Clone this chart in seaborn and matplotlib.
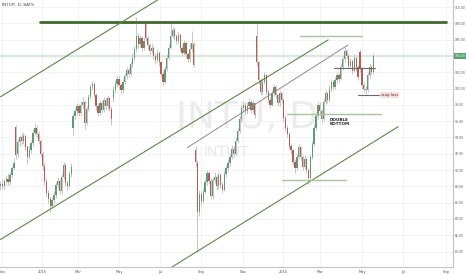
import numpy as np
import pandas as pd
import matplotlib
matplotlib.use("Agg")
import matplotlib.pyplot as plt
import matplotlib.transforms as mtransforms
import seaborn as sns

# ---------------- data (one candle = 2 trading days) ----------------
opens = [
    88.0, 88.3, 88.0, 88.6, 88.9, 88.5, 89.4, 90.2, 95.3, 92.0,
    93.4, 94.0, 93.5, 94.2, 92.8, 91.6, 92.5, 93.3, 94.6, 95.2,
    94.4, 93.6, 92.0, 90.5, 88.6, 87.2, 86.4, 85.6, 86.3, 86.9,
    88.2, 88.6, 87.4, 89.2, 90.6, 88.4, 88.0, 89.5, 95.2, 96.6,
    97.2, 97.8, 97.0, 98.0, 98.4, 95.8, 97.5, 99.0, 100.2, 100.6,
    99.2, 97.8, 97.0, 98.2, 97.4, 98.6, 97.8, 98.8, 97.5, 98.8,
    99.8, 100.6, 101.2, 100.4, 99.8, 100.8, 101.5, 102.3, 101.8, 103.0,
    103.8, 104.8, 106.4, 105.4, 106.2, 105.0, 107.9, 106.2, 105.3, 104.6,
    105.0, 104.0, 103.5, 104.4, 103.2, 101.8, 100.8, 102.4, 103.8, 105.0,
    106.5, 107.2, 106.4, 105.8, 106.6, 105.0, 104.4, 105.6, 104.2, 103.6,
    104.8, 105.4, 92.5, 90.9, 84.9, 87.0, 86.2, 87.3, 88.5, 89.6,
    88.7, 86.8, 88.8, 89.2, 88.0, 89.4, 88.2, 87.6, 89.5, 90.2,
    90.8, 91.6, 92.6, 92.0, 93.6, 94.8, 96.2, 97.6, 98.0, 97.2,
    97.8, 98.4, 97.4, 98.2, 106.4, 103.2, 101.0, 99.6, 100.8, 101.6,
    99.6, 98.6, 98.0, 99.4, 100.2, 99.2, 98.2, 99.4, 98.6, 96.4,
    95.2, 94.4, 93.0, 92.4, 91.0, 90.2, 91.6, 92.8, 91.6, 90.4,
    91.4, 90.0, 89.0, 91.6, 93.2, 95.2, 96.6, 98.0, 97.2, 96.2,
    98.4, 99.4, 98.6, 100.0, 100.8, 100.2, 101.0, 101.6, 101.2, 102.6,
    103.6, 104.6, 104.0, 102.8, 103.4, 102.2, 103.8, 102.6, 104.5, 102.4,
    100.4, 100.0, 99.8, 101.6, 102.6, 102.0,
]
highs = [
    88.7, 88.9, 88.9, 89.4, 89.6, 89.8, 90.5, 91.5, 95.5, 93.8,
    94.3, 94.6, 94.7, 94.4, 93.1, 93.0, 93.6, 95.0, 95.8, 95.5,
    94.8, 93.8, 92.3, 90.8, 89.0, 87.6, 86.8, 86.7, 87.4, 88.5,
    89.1, 88.9, 89.6, 91.0, 90.8, 88.8, 89.9, 90.9, 97.0, 97.6,
    98.2, 98.1, 98.5, 98.9, 98.6, 97.9, 99.3, 100.5, 100.9, 100.8,
    99.5, 98.2, 98.6, 98.5, 99.0, 98.9, 99.2, 99.0, 97.8, 100.3,
    101.0, 101.6, 101.5, 100.7, 101.2, 101.9, 102.7, 102.6, 103.4, 104.3,
    105.2, 108.8, 106.8, 106.6, 106.5, 106.3, 108.1, 106.5, 105.6, 105.4,
    105.2, 104.3, 104.8, 104.6, 103.4, 102.1, 102.8, 104.2, 105.4, 108.0,
    107.6, 107.5, 106.7, 107.0, 106.8, 105.3, 106.0, 105.8, 104.5, 105.6,
    107.0, 105.7, 93.0, 91.2, 87.5, 87.4, 87.8, 88.9, 90.0, 89.9,
    89.0, 89.2, 89.7, 89.4, 89.8, 89.6, 88.5, 89.9, 90.6, 91.3,
    92.0, 93.1, 92.9, 94.0, 95.2, 96.6, 98.0, 98.4, 98.3, 98.3,
    98.8, 98.6, 98.6, 98.4, 107.9, 103.4, 101.3, 101.2, 102.0, 101.8,
    99.9, 98.9, 99.8, 100.6, 100.4, 99.5, 99.8, 99.6, 98.8, 96.7,
    95.5, 94.7, 93.3, 92.6, 91.3, 92.0, 93.2, 93.0, 91.9, 91.8,
    91.6, 90.3, 92.0, 93.6, 95.6, 97.0, 98.4, 98.3, 97.5, 98.8,
    99.8, 99.6, 100.4, 101.2, 101.0, 101.4, 102.0, 101.9, 103.0, 104.0,
    105.1, 104.9, 104.2, 103.8, 103.6, 104.2, 104.0, 102.9, 104.8, 102.6,
    100.8, 100.4, 102.0, 103.0, 102.9, 104.4,
]
lows = [
    87.6, 87.7, 87.7, 88.2, 88.1, 88.1, 89.1, 90.0, 91.3, 91.6,
    93.0, 93.2, 93.2, 92.4, 90.7, 91.3, 92.1, 93.0, 94.3, 94.0,
    93.2, 91.6, 90.0, 88.2, 86.8, 85.9, 84.9, 85.3, 86.0, 86.6,
    87.8, 87.0, 87.1, 88.9, 88.0, 87.5, 87.8, 89.2, 94.3, 96.2,
    96.8, 96.6, 96.7, 97.6, 95.0, 95.5, 97.2, 98.7, 99.8, 98.9,
    97.4, 96.6, 96.8, 97.0, 97.1, 97.4, 97.5, 97.2, 95.5, 98.4,
    99.4, 100.2, 100.0, 99.4, 99.5, 100.5, 101.2, 101.4, 101.5, 102.7,
    103.5, 104.5, 105.0, 105.1, 104.6, 104.7, 105.8, 104.9, 104.2, 104.3,
    103.6, 103.0, 103.2, 102.8, 101.4, 100.4, 100.6, 102.1, 103.5, 104.8,
    106.2, 106.0, 105.4, 105.5, 104.6, 104.0, 104.1, 103.8, 103.2, 103.3,
    104.5, 102.6, 90.4, 79.9, 84.3, 85.6, 85.9, 87.0, 88.2, 88.3,
    86.4, 86.5, 88.4, 87.6, 87.7, 87.8, 87.2, 87.4, 89.1, 89.9,
    90.5, 91.3, 91.6, 91.8, 93.3, 94.5, 95.9, 97.2, 96.8, 96.9,
    97.5, 97.0, 97.1, 96.4, 102.8, 100.6, 99.2, 99.3, 100.5, 99.2,
    98.2, 97.6, 97.8, 99.1, 98.8, 97.8, 97.9, 98.2, 96.0, 94.8,
    94.0, 92.6, 92.0, 90.6, 89.6, 90.0, 91.3, 91.2, 90.0, 90.1,
    89.6, 88.3, 88.8, 91.3, 92.9, 94.9, 96.3, 96.8, 95.8, 96.0,
    98.1, 98.2, 98.3, 99.7, 99.8, 99.9, 100.7, 100.8, 101.0, 102.3,
    103.3, 103.6, 102.4, 102.5, 101.8, 102.0, 102.2, 101.0, 102.0, 100.0,
    99.6, 99.3, 99.6, 101.3, 101.7, 101.8,
]
closes = [
    88.3, 88.0, 88.6, 88.9, 88.5, 89.4, 90.2, 90.9, 91.8, 93.4,
    94.0, 93.5, 94.2, 92.8, 91.6, 92.5, 93.3, 94.6, 95.2, 94.4,
    93.6, 92.0, 90.5, 88.6, 87.2, 86.4, 85.6, 86.3, 86.9, 88.2,
    88.6, 87.4, 89.2, 90.6, 88.4, 88.0, 89.5, 90.4, 96.6, 97.2,
    97.8, 97.0, 98.0, 98.4, 95.8, 97.5, 99.0, 100.2, 100.6, 99.2,
    97.8, 97.0, 98.2, 97.4, 98.6, 97.8, 98.8, 97.5, 96.2, 99.8,
    100.6, 101.2, 100.4, 99.8, 100.8, 101.5, 102.3, 101.8, 103.0, 103.8,
    104.8, 106.4, 105.4, 106.2, 105.0, 105.8, 106.2, 105.3, 104.6, 105.0,
    104.0, 103.5, 104.4, 103.2, 101.8, 100.8, 102.4, 103.8, 105.0, 106.5,
    107.2, 106.4, 105.8, 106.6, 105.0, 104.4, 105.6, 104.2, 103.6, 104.8,
    105.6, 102.9, 91.0, 84.8, 87.0, 86.2, 87.3, 88.5, 89.6, 88.7,
    86.8, 88.8, 89.2, 88.0, 89.4, 88.2, 87.6, 89.5, 90.2, 90.8,
    91.6, 92.6, 92.0, 93.6, 94.8, 96.2, 97.6, 98.0, 97.2, 97.8,
    98.4, 97.4, 98.2, 96.8, 103.2, 101.0, 99.6, 100.8, 101.6, 99.6,
    98.6, 98.0, 99.4, 100.2, 99.2, 98.2, 99.4, 98.6, 96.4, 95.2,
    94.4, 93.0, 92.4, 91.0, 90.2, 91.6, 92.8, 91.6, 90.4, 91.4,
    90.0, 89.0, 91.6, 93.2, 95.2, 96.6, 98.0, 97.2, 96.2, 98.4,
    99.4, 98.6, 100.0, 100.8, 100.2, 101.0, 101.6, 101.2, 102.6, 103.6,
    104.6, 104.0, 102.8, 103.4, 102.2, 103.8, 102.6, 101.4, 102.4, 100.4,
    100.0, 99.8, 101.6, 102.6, 102.0, 104.0,
]

tick_days = [2.1, 43.9, 81.5, 124.3, 167.2, 210.0, 253.9, 295.7, 334.4, 378.3, 421.1, 466.0]
tick_labels = ["Nov", "2015", "Mar", "May", "Jul", "Sep", "Nov", "2016", "Mar", "May", "Jul", "Sep"]
price_ticks = [80, 82, 84, 86, 88, 90, 92, 94, 96, 98, 100, 102, 104, 106, 108, 110]
last_price = 104.00

# drawn annotation lines: (x0, y0, x1, y1) in (trading day, price)
resistance_line = (41.8, 108.16, 466.0, 108.16)
channel_top = (0.0, 98.98, 180.0, 112.0)
channel_mid = (0.0, 81.48, 342.7, 105.96)
channel_gray = (195.4, 92.74, 363.6, 105.35)
channel_low = (176.0, 77.85, 415.9, 95.31)
top_level = (313.5, 106.45, 378.3, 106.45)
neckline = (299.9, 96.9, 398.1, 96.9)
bottom_level = (294.7, 88.83, 361.5, 88.83)
range_level = (349.0, 102.53, 391.8, 102.53)
stop_level = (374.0, 99.23, 396.0, 99.23)

# ---------------- drawing ----------------
sns.set_theme(style="white")
plt.rcParams["font.family"] = ["DejaVu Sans"]

W, H = 466, 275
fig = plt.figure(figsize=(W / 100, H / 100), dpi=100)
fig.patch.set_facecolor("white")
ax = fig.add_axes([0, 8 / H, 453 / W, 267 / H])
ax.set_facecolor("white")

ax.set_xlim(-0.5, 473.3)
ax.set_ylim(78.1, 110.86)

ax.grid(True, color="#f0f0f0", lw=0.6, zorder=0)
ax.set_axisbelow(True)

# watermark
ax.text(258, 96.4, "INTU, D", fontsize=27, color="#ececec", ha="center", va="center",
        zorder=0.5)
ax.text(236, 92.2, "INTUIT", fontsize=10, color="#e8e8e8", ha="center", va="center",
        zorder=0.5)

# last price line
ax.axhline(last_price, color="#d7eadd", lw=1.6, zorder=1)

df = pd.DataFrame(dict(day=np.arange(len(closes)) * 2, open=opens, high=highs,
                       low=lows, close=closes))
up = df["close"] >= df["open"]
body = (df["close"] - df["open"]).abs().clip(lower=0.08)
bottom = df[["open", "close"]].min(axis=1)
ax.vlines(df["day"], df["low"], df["high"], color="#bdbdbd", lw=0.6, zorder=2)
ax.bar(df["day"][up], body[up], bottom=bottom[up], width=1.35, color="#5e9c77",
       linewidth=0, zorder=3)
ax.bar(df["day"][~up], body[~up], bottom=bottom[~up], width=1.35, color="#bb5c52",
       linewidth=0, zorder=3)


def seg(line, color, lw):
    x0, y0, x1, y1 = line
    sns.lineplot(x=[x0, x1], y=[y0, y1], ax=ax, color=color, lw=lw, zorder=4,
                 sort=False)


seg(resistance_line, "#3e6b2b", 2.0)
seg(channel_top, "#5b8a45", 0.8)
seg(channel_mid, "#5b8a45", 0.8)
seg(channel_low, "#5b8a45", 0.8)
seg(channel_gray, "#8c8c8c", 0.7)
for lv in (top_level, neckline, bottom_level):
    seg(lv, "#a6c697", 1.0)
seg(range_level, "#6a6a6a", 0.8)
seg(stop_level, "#6a6a6a", 0.8)

ax.text(343.8, 95.9, "DOUBLE\nBOTTOM", fontsize=3.0, fontweight="bold", color="#222222",
        ha="left", va="center", linespacing=1.0, zorder=5)
ax.text(398.0, 99.15, "stop loss", fontsize=2.8, color="#7a1d1d", ha="left", va="center",
        zorder=5, bbox=dict(boxstyle="square,pad=0.25", fc="#f3e1e1", ec="none"))

# axes styling
for s in ("top", "left"):
    ax.spines[s].set_visible(False)
for s in ("right", "bottom"):
    ax.spines[s].set_color("#c4c4c4")
    ax.spines[s].set_linewidth(0.8)

ax.yaxis.tick_right()
ax.set_yticks(price_ticks)
# the tick at the last price is covered by the price tag
ax.set_yticklabels(["" if v == last_price else f"{v:.2f}" for v in price_ticks])
ax.set_xticks(tick_days)
ax.set_xticklabels(tick_labels)
ax.tick_params(axis="x", labelsize=2.6, labelcolor="#555555", color="#b0b0b0",
               length=1.5, width=0.5, pad=0.8)
ax.tick_params(axis="y", labelsize=2.2, labelcolor="#555555", color="#b0b0b0",
               length=1.0, width=0.5, pad=0.5)
ax.set_xlabel("")
ax.set_ylabel("")

# last price tag on the axis
trans = mtransforms.blended_transform_factory(ax.transAxes, ax.transData)
ax.text(1.004, last_price, f"{last_price:.2f}", transform=trans, fontsize=2.2,
        color="white", ha="left", va="center", zorder=6, clip_on=False,
        bbox=dict(boxstyle="square,pad=0.2", fc="#53a371", ec="none"))

fig.text(2 / W, 1 - 5.5 / H, "INTUIT, D, BATS", fontsize=3.0, color="#444444",
         ha="left", va="center")

fig.savefig("out.png", dpi=100)
